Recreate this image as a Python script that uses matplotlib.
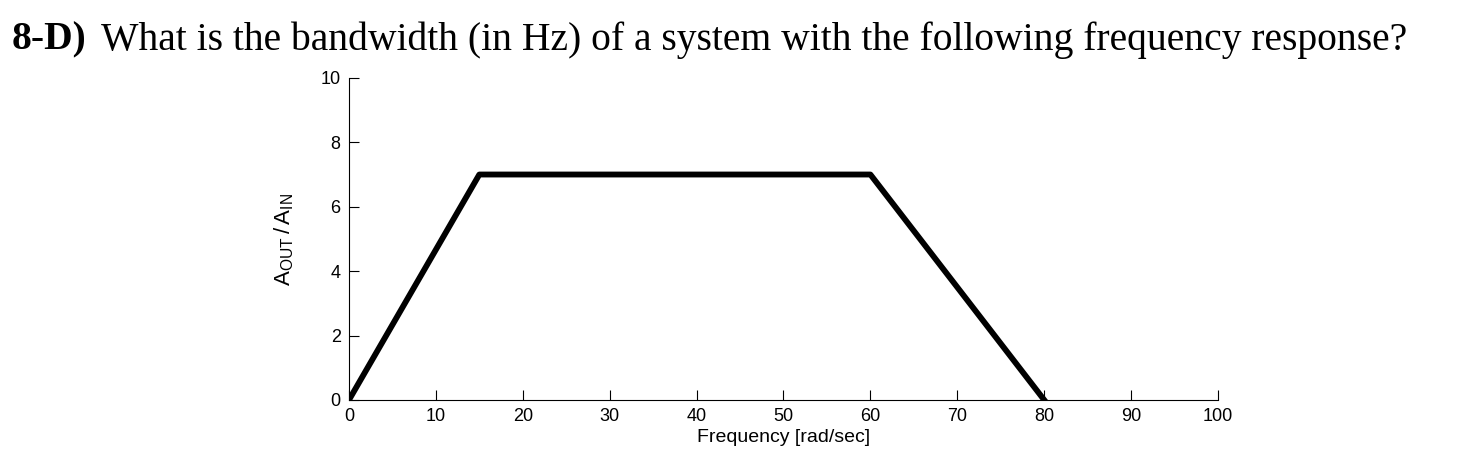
import matplotlib.pyplot as plt

freq = [0, 15, 60, 80]
gain = [0, 7, 7, 0]
x_ticks = [0, 10, 20, 30, 40, 50, 60, 70, 80, 90, 100]
y_ticks = [0, 2, 4, 6, 8, 10]

plt.rcParams["font.family"] = ["Liberation Sans", "DejaVu Sans"]
plt.rcParams["mathtext.fontset"] = "custom"
plt.rcParams["mathtext.rm"] = "Liberation Sans"

fig = plt.figure(figsize=(14.62, 4.75), dpi=100)
ax = fig.add_axes([0.2387, 0.158, 0.5944, 0.678])

ax.plot(freq, gain, color="black", linewidth=4.2, solid_joinstyle="round")
ax.set_xlim(0, 100)
ax.set_ylim(0, 10)
ax.set_xticks(x_ticks)
ax.set_yticks(y_ticks)
ax.tick_params(direction="in", length=7, labelsize=13, pad=6)
ax.spines["top"].set_visible(False)
ax.spines["right"].set_visible(False)
ax.set_xlabel("Frequency [rad/sec]", fontsize=14, labelpad=3)
ax.set_ylabel(r"$\mathrm{A_{OUT}\,/\,A_{IN}}$", fontsize=16, labelpad=18)

fig.text(0.008, 0.915, "8-D)", fontsize=28.5, fontweight="bold",
         family="Liberation Serif", va="center")
fig.text(0.069, 0.915,
         "What is the bandwidth (in Hz) of a system with the following frequency response?",
         fontsize=28.5, family="Liberation Serif", va="center")

fig.savefig("out.png", dpi=100)
